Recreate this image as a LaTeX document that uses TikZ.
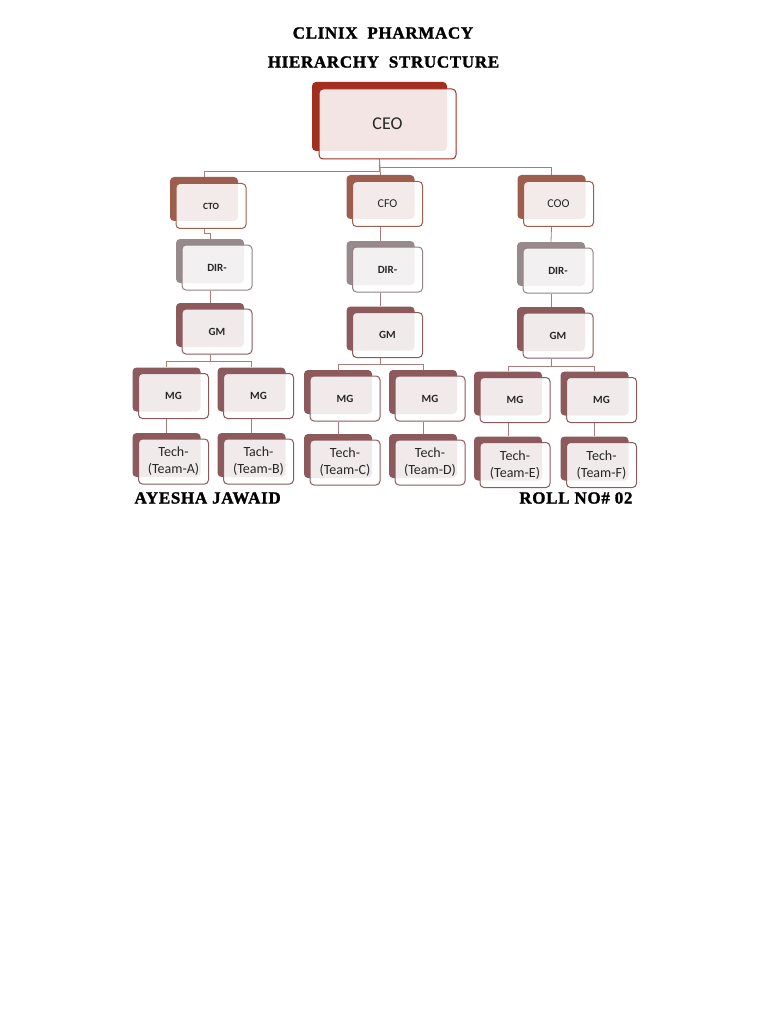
\documentclass[tikz,border=0pt]{standalone}
\usepackage{fontspec}
\usepackage{tikz}
\newfontfamily\boxfont{Carlito}
\newfontfamily\headfont{Liberation Serif}[LetterSpace=4,BoldFeatures={FakeBold=1.5}]
\usetikzlibrary{backgrounds}

\definecolor{ceored}{HTML}{A32E1F}
\definecolor{chiefbrown}{HTML}{9E5E4E}
\definecolor{dirgrey}{HTML}{968A8C}
\definecolor{staffrose}{HTML}{8C5A5C}
\definecolor{linkcol}{HTML}{A87C78}

\begin{document}
\begin{tikzpicture}[x=1pt,y=-1pt,
  back/.style={rounded corners=4pt,minimum width=68pt,minimum height=44pt,inner sep=0pt},
  front/.style={draw,line width=1pt,fill=white,fill opacity=0.88,text opacity=1,rounded corners=4pt,
    minimum width=70pt,minimum height=45pt,inner sep=0pt,align=center,font=\boxfont,text=black!85},
  small/.style={font=\boxfont\bfseries\fontsize{11}{13}\selectfont},
  team/.style={font=\boxfont\fontsize{14}{17}\selectfont},
  link/.style={draw=linkcol,line width=0.8pt},
  heading/.style={font=\headfont\bfseries\fontsize{17}{20}\selectfont}]
\useasboundingbox (0,0) rectangle (768,1024);

% titles
\node[heading] (title) at (383,33) {CLINIX\ \ PHARMACY};
\node[heading] (subtitle) at (383.5,62) {HIERARCHY\ \ STRUCTURE};

% top
\node[back,fill=ceored,minimum width=135pt,minimum height=69pt] (ceoB) at (379.5,116.5) {};
\node[front,draw=ceored,minimum width=137pt,minimum height=70pt,font=\boxfont\fontsize{18}{21}\selectfont] (ceo) at (387.5,124) {CEO};

% chiefs
\node[back,fill=chiefbrown] (ctoB) at (204,199) {};
\node[front,draw=chiefbrown,font=\boxfont\bfseries\fontsize{9.5}{11}\selectfont] (cto) at (211,206) {CTO};
\node[back,fill=chiefbrown] (cfoB) at (380.5,197) {};
\node[front,draw=chiefbrown,font=\boxfont\fontsize{12}{14}\selectfont] (cfo) at (387.5,204) {CFO};
\node[back,fill=chiefbrown] (cooB) at (551.5,197) {};
\node[front,draw=chiefbrown,font=\boxfont\fontsize{12}{14}\selectfont] (coo) at (558.5,204) {COO};

% directors
\node[back,fill=dirgrey] (diraB) at (210,261) {};
\node[front,draw=dirgrey!80!staffrose,small] (dira) at (217,267.5) {DIR-};
\node[back,fill=dirgrey] (dirbB) at (380.5,263) {};
\node[front,draw=dirgrey!80!staffrose,small] (dirb) at (387.5,269.5) {DIR-};
\node[back,fill=dirgrey] (dircB) at (551,264) {};
\node[front,draw=dirgrey!80!staffrose,small] (dirc) at (558,270.5) {DIR-};

% general managers
\node[back,fill=staffrose] (gmaB) at (210,325) {};
\node[front,draw=staffrose,small] (gma) at (217,331.5) {GM};
\node[back,fill=staffrose] (gmbB) at (380.5,328.5) {};
\node[front,draw=staffrose,small] (gmb) at (387.5,335) {GM};
\node[back,fill=staffrose] (gmcB) at (551,329) {};
\node[front,draw=staffrose,small] (gmc) at (558,335.5) {GM};

% managers
\node[back,fill=staffrose] (mgaB) at (166.5,389.5) {};
\node[front,draw=staffrose,small] (mga) at (173.5,396) {MG};
\node[back,fill=staffrose] (mgbB) at (251.5,389.5) {};
\node[front,draw=staffrose,small] (mgb) at (258.5,396) {MG};
\node[back,fill=staffrose] (mgcB) at (338,392) {};
\node[front,draw=staffrose,small] (mgc) at (345,398.5) {MG};
\node[back,fill=staffrose] (mgdB) at (423,392) {};
\node[front,draw=staffrose,small] (mgd) at (430,398.5) {MG};
\node[back,fill=staffrose] (mgeB) at (508,393.5) {};
\node[front,draw=staffrose,small] (mge) at (515,400) {MG};
\node[back,fill=staffrose] (mgfB) at (594.5,393.5) {};
\node[front,draw=staffrose,small] (mgf) at (601.5,400) {MG};

% teams
\node[back,fill=staffrose] (techaB) at (166.5,455) {};
\node[front,draw=staffrose,team] (techa) at (173.5,461.5) {Tech-\\(Team-A)};
\node[back,fill=staffrose] (techbB) at (251.5,455) {};
\node[front,draw=staffrose,team] (techb) at (258.5,461.5) {Tach-\\(Team-B)};
\node[back,fill=staffrose] (techcB) at (338,456) {};
\node[front,draw=staffrose,team] (techc) at (345,462.5) {Tech-\\(Team-C)};
\node[back,fill=staffrose] (techdB) at (423,456) {};
\node[front,draw=staffrose,team] (techd) at (430,462.5) {Tech-\\(Team-D)};
\node[back,fill=staffrose] (techeB) at (508,458.5) {};
\node[front,draw=staffrose,team] (teche) at (515,465) {Tech-\\(Team-E)};
\node[back,fill=staffrose] (techfB) at (594.5,458.5) {};
\node[front,draw=staffrose,team] (techf) at (601.5,465) {Tech-\\(Team-F)};

% links
\begin{scope}[on background layer]
\draw[link] (ceo.south -| ceoB) -- ++(0,12) -| (ctoB.north);
\draw[link] (ceo.south -| ceoB) -- ++(0,8) -| (cooB.north);
\draw[link] (ceo.south -| ceoB) -- (cfoB.north);
\draw[link] (cto.south -| ctoB) -- ++(0,4) -| (diraB.north);
\draw[link] (cfo.south -| cfoB) -- (dirbB.north);
\draw[link] (coo.south -| cooB) -- (dircB.north);
\draw[link] (dira.south -| diraB) -- (gmaB.north);
\draw[link] (dirb.south -| dirbB) -- (gmbB.north);
\draw[link] (dirc.south -| dircB) -- (gmcB.north);
\draw[link] (gma.south -| gmaB) -- ++(0,7) -| (mgaB.north);
\draw[link] (gma.south -| gmaB) -- ++(0,7) -| (mgbB.north);
\draw[link] (gmb.south -| gmbB) -- ++(0,6) -| (mgcB.north);
\draw[link] (gmb.south -| gmbB) -- ++(0,6) -| (mgdB.north);
\draw[link] (gmc.south -| gmcB) -- ++(0,8) -| (mgeB.north);
\draw[link] (gmc.south -| gmcB) -- ++(0,8) -| (mgfB.north);
\draw[link] (mga.south -| mgaB) -- (techaB.north);
\draw[link] (mgb.south -| mgbB) -- (techbB.north);
\draw[link] (mgc.south -| mgcB) -- (techcB.north);
\draw[link] (mgd.south -| mgdB) -- (techdB.north);
\draw[link] (mge.south -| mgeB) -- (techeB.north);
\draw[link] (mgf.south -| mgfB) -- (techfB.north);
\end{scope}

% footer
\node[heading,anchor=west] (author) at (131,498) {AYESHA JAWAID};
\node[heading,anchor=east] (roll) at (636,498) {ROLL NO\# 02};
\end{tikzpicture}
\end{document}
